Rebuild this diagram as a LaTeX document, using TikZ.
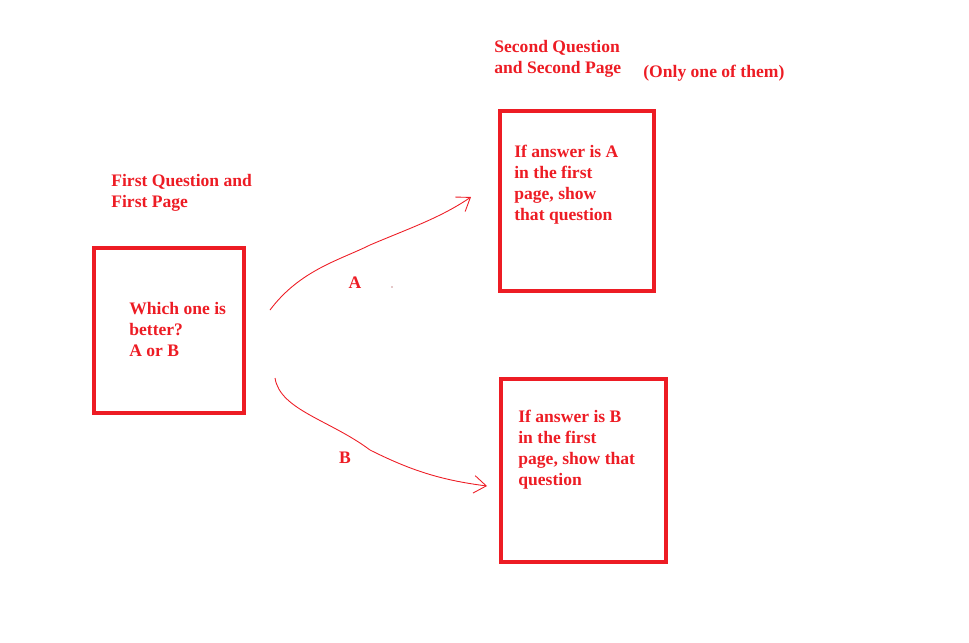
\documentclass[tikz,border=0pt]{standalone}
\usepackage{fontspec}
\setmainfont{Liberation Serif}
\usetikzlibrary{arrows.meta}

\definecolor{paintred}{RGB}{237,28,36}
\tikzset{
  box/.style={draw=paintred, line width=2.3pt},
  txt/.style={text=paintred, font=\bfseries, align=left, anchor=north west, inner sep=0pt},
  link/.style={draw=paintred, line width=0.5pt, -{Straight Barb[length=7pt,width=10pt]}}
}

\begin{document}
\begin{tikzpicture}[x=0.02cm, y=-0.02cm]
        \useasboundingbox (0,0) rectangle (969,642);

        % boxes
        \draw[box] (94,248) rectangle (244,413);
        \draw[box] (500,111) rectangle (654,291);
        \draw[box] (501,379) rectangle (666,562);

        % headings
        \node[txt] (h1) at (111,174) {First Question and\\First Page};
        \node[txt] (h2) at (494,40) {Second Question\\and Second Page};
        \node[txt] (h3) at (643,65) {(Only one of them)};

        % box texts
        \node[txt] (first) at (129,302) {Which one is\\better?\\A or B};
        \node[txt] (qa) at (514,145) {If answer is A\\in the first\\page, show\\that question};
        \node[txt] (qb) at (518,410) {If answer is B\\in the first\\page, show that\\question};

        % arrows
        \coordinate (sa) at (270,310);
        \coordinate (ea) at (471,197);
        \coordinate (sb) at (275,378);
        \coordinate (eb) at (487,486);
        \draw[link] (sa) .. controls (300,270) and (340,260) .. (370,245)
                          .. controls (410,228) and (440,218) .. (ea);
        \draw[link] (sb) .. controls (280,410) and (330,420) .. (370,450)
                          .. controls (410,470) and (440,480) .. (eb);

        \node[text=paintred, font=\bfseries] (la) at (355,283) {A};
        \node[text=paintred, font=\bfseries] (lb) at (345,458) {B};
        \fill[paintred!60!black] (392,287) circle (0.6);
      \end{tikzpicture}
\end{document}
